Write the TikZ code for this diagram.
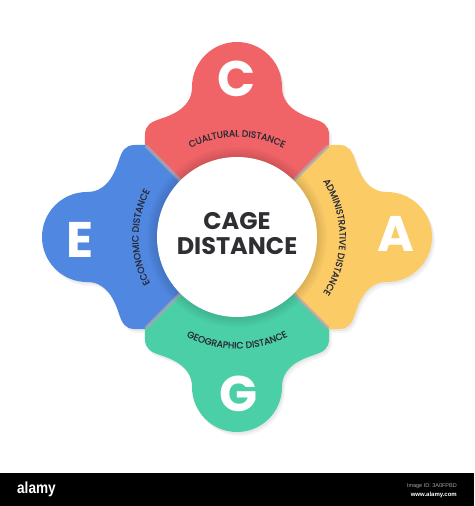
\documentclass[tikz,border=0pt]{standalone}
\usepackage{fontspec}
\setmainfont{Poppins}
\newfontfamily\popfont{Poppins}
\newfontfamily\popsemi{Poppins}[FakeBold=0.6]
\newfontfamily\logofont{Liberation Sans}
\usetikzlibrary{decorations.text}
\definecolor{petred}{HTML}{F06468}
\definecolor{petblue}{HTML}{4F87E1}
\definecolor{petyellow}{HTML}{FBCB66}
\definecolor{petgreen}{HTML}{4ACFA6}
\definecolor{txtdark}{HTML}{2A2A36}
\definecolor{centertxt}{HTML}{2F2F33}
\definecolor{sepgray}{HTML}{A9A9B0}
\newcommand\petaltxt{\popsemi\fontsize{9.2}{10}\selectfont}
\tikzset{
  petalpath/.style={insert path={(0,0) -- (-92,92) -- (-92,102)
    .. controls (-92,112) and (-86,115) .. (-77,118)
    .. controls (-58,124) and (-45,133) .. (-45,150)
    arc[start angle=180,end angle=0,radius=45]
    .. controls (45,133) and (58,124) .. (77,118)
    .. controls (86,115) and (92,112) .. (92,102)
    -- (92,92) -- cycle}},
  bigletter/.style={text=white,font=\popfont\bfseries\fontsize{50}{50}\selectfont,inner sep=0pt},
  centerline/.style={text=centertxt,font=\popfont\bfseries\fontsize{24}{26}\selectfont,inner sep=0pt},
  arctext/.style={decorate,decoration={text along path,text align=center,text color=txtdark,text={|\petaltxt|#1}}},
  separator/.style={sepgray,line width=3.5pt,opacity=0.7}
}
\begin{document}
\begin{tikzpicture}[x=1pt,y=1pt]
\useasboundingbox (-237,-269) rectangle (237,237);
\fill[white] (-237,-269) rectangle (237,237);
% soft drop shadows
\foreach \ang in {0,90,180,270}{
  \fill[black,opacity=0.04,shift={(3,-4)},rotate=\ang,petalpath];
  \fill[black,opacity=0.05,shift={(1.5,-2)},rotate=\ang,petalpath];
}
% petals
\foreach \ang/\col in {0/petred,90/petblue,180/petgreen,270/petyellow}{
  \fill[\col,rotate=\ang,petalpath];
}
% separators
\foreach \ang in {45,135,225,315}{
  \draw[separator] (\ang:76) -- (\ang:129);
}
% circle shadow (soft)
\foreach \r in {90,88,86,84,82}{
  \fill[black,opacity=0.022] (0,0) circle (\r);
}
\fill[white] (0,0) circle (80);
% centre text
\node[centerline] (cage) at (0,16) {CAGE};
\node[centerline] (dist) at (0,-9) {DISTANCE};
% big letters
\node[bigletter] (lc) at (0,158) {C};
\node[bigletter] (la) at (159,3) {A};
\node[bigletter] (lg) at (2,-157) {G};
\node[bigletter] (le) at (-157,-3) {E};
% arc texts
\path[arctext={CUALTURAL DISTANCE}] (155:100.5) arc[start angle=155,end angle=25,radius=100.5];
\path[arctext={ADMINISTRATIVE DISTANCE}] (68:102.5) arc[start angle=68,end angle=-68,radius=102.5];
\path[arctext={ECONOMIC DISTANCE}] (245:98.5) arc[start angle=245,end angle=115,radius=98.5];
\path[arctext={GEOGRAPHIC DISTANCE}] (232:111.5) arc[start angle=232,end angle=308,radius=111.5];
% bottom bar
\fill[black] (-237,-236) rectangle (237,-269);
\node[text=white,font=\logofont\bfseries\fontsize{16}{16}\selectfont,xscale=0.85,inner sep=0pt,anchor=west] (logo) at (-220,-252) {alamy};
\node[text=gray!70,font=\logofont\fontsize{5.5}{6}\selectfont,inner sep=0pt,anchor=east] (imgid) at (220,-249) {Image ID: 3A0FPBD};
\node[text=white,font=\logofont\bfseries\fontsize{6}{7}\selectfont,inner sep=0pt,anchor=east] (url) at (220,-257.5) {www.alamy.com};
\end{tikzpicture}
\end{document}
